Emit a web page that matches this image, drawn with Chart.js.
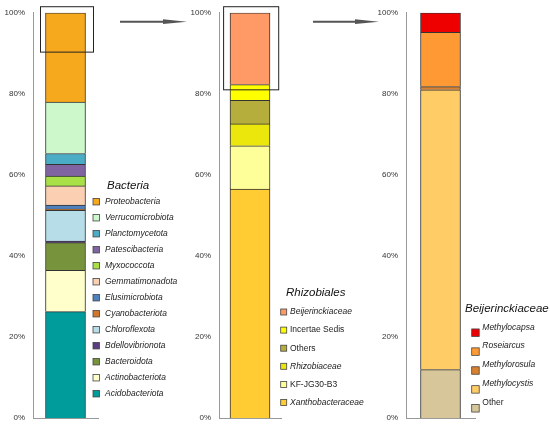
<!DOCTYPE html>
<html>
<head>
<meta charset="utf-8">
<script src="https://cdn.jsdelivr.net/npm/chart.js@4.4.1/dist/chart.umd.min.js"></script>
<style>
  body { margin: 0; background: #fff; }
  #wrap { position: relative; width: 550px; height: 431px; overflow: hidden; }
  canvas { position: absolute; top: 0; }
</style>
</head>
<body>
<div id="wrap">
  <canvas id="bact" width="190" height="431" style="left:0"></canvas>
  <canvas id="rhizo" width="190" height="431" style="left:190px"></canvas>
  <canvas id="beij" width="190" height="431" style="left:360px"></canvas>
</div>
<script>
// stack order: bottom -> top
const bacteriaTaxa = ["Acidobacteriota", "Actinobacteriota", "Bacteroidota", "Bdellovibrionota",
  "Chloroflexota", "Cyanobacteriota", "Elusimicrobiota", "Gemmatimonadota", "Myxococcota",
  "Patescibacteria", "Planctomycetota", "Verrucomicrobiota", "Proteobacteria"];
const bacteriaValues = [26.3, 10.2, 6.8, 0.4, 7.6, 0.3, 1.0, 4.7, 2.4, 2.9, 2.7, 12.7, 22.0];
const bacteriaColors = ["#009b9b", "#ffffcc", "#77933c", "#5c3d82", "#b7dee8", "#d2782e",
  "#4f81bd", "#fbd0b2", "#a9e048", "#8064a2", "#4bacc6", "#ccf8cc", "#f6a91c"];

const rhizoTaxa = ["Xanthobacteraceae", "KF-JG30-B3", "Rhizobiaceae", "Others", "Incertae Sedis", "Beijerinckiaceae"];
const rhizoValues = [56.5, 10.7, 5.4, 5.8, 3.9, 17.7];
const rhizoColors = ["#ffcc33", "#ffff99", "#ebe60c", "#b5ad3c", "#ffff00", "#ff9966"];
const rhizoItalic = [true, false, true, false, false, true];

const beijTaxa = ["Other", "Methylocystis", "Methylorosula", "Roseiarcus", "Methylocapsa"];
const beijValues = [12.0, 69.0, 0.8, 13.4, 4.8];
const beijColors = ["#d6c69a", "#ffcc66", "#d9812e", "#ff9933", "#ee0000"];
const beijItalic = [false, true, true, true, true];

const yTicks = [0, 20, 40, 60, 80, 100];

const sideLegend = {
  id: "sideLegend",
  afterDraw(chart, args, o) {
    const ctx = chart.ctx;
    const sets = chart.data.datasets.slice().reverse();
    ctx.save();
    ctx.textBaseline = "middle";
    ctx.fillStyle = "#111";
    ctx.font = "italic 11.5px 'Liberation Sans', Arial, sans-serif";
    ctx.fillText(o.title, o.titleX, o.titleY);
    sets.forEach((ds, i) => {
      const y = o.firstY + i * o.step;
      ctx.fillStyle = ds.backgroundColor;
      ctx.fillRect(o.boxX, y - o.box / 2, o.box, o.box);
      ctx.strokeStyle = "#444";
      ctx.lineWidth = 0.8;
      ctx.strokeRect(o.boxX, y - o.box / 2, o.box, o.box);
      ctx.fillStyle = "#222";
      ctx.font = (ds.italic ? "italic " : "") + "8.5px 'Liberation Sans', Arial, sans-serif";
      ctx.fillText(ds.label, o.textX, y + o.textDy);
    });
    ctx.restore();
  }
};

const zoomBox = {
  id: "zoomBox",
  afterDraw(chart, args, o) {
    if (!o.show) return;
    const ctx = chart.ctx;
    const y = chart.scales.y;
    const metas = chart.getSortedVisibleDatasetMetas();
    const bar = metas[metas.length - 1].data[0];
    const l = bar.x - bar.width / 2 - o.padL, r = bar.x + bar.width / 2 + o.padR;
    const t = y.getPixelForValue(o.top), b = y.getPixelForValue(o.bottom);
    ctx.save();
    ctx.strokeStyle = "#222";
    ctx.lineWidth = 1;
    ctx.strokeRect(l, t, r - l, b - t);
    // arrow to the next panel
    const ay = y.getPixelForValue(o.arrowAt);
    ctx.strokeStyle = "#555";
    ctx.lineWidth = 2;
    ctx.beginPath();
    ctx.moveTo(o.arrowX1, ay);
    ctx.lineTo(o.arrowX2 - 16, ay);
    ctx.stroke();
    ctx.fillStyle = "#555";
    ctx.beginPath();
    ctx.moveTo(o.arrowX2, ay);
    ctx.lineTo(o.arrowX2 - 24, ay - 2.4);
    ctx.lineTo(o.arrowX2 - 24, ay + 2.4);
    ctx.closePath();
    ctx.fill();
    ctx.restore();
  }
};

function makeChart(id, taxa, values, colors, italic, axisX, right, legend, box) {
  const canvas = document.getElementById(id);
  const datasets = taxa.map((t, i) => ({
    label: t,
    data: [values[i]],
    backgroundColor: colors[i],
    borderColor: "#333",
    borderWidth: 1,
    borderSkipped: "start",
    barThickness: 40,
    italic: italic ? italic[i] : true
  }));
  return new Chart(canvas, {
    type: "bar",
    data: { labels: [""], datasets: datasets },
    options: {
      responsive: false,
      animation: false,
      layout: { padding: { top: 12, bottom: 9, left: 0, right: canvas.width - right } },
      scales: {
        x: {
          stacked: true,
          grid: { display: false, drawTicks: false },
          border: { color: "#999", width: 1 },
          ticks: { display: false },
          afterFit: (s) => { s.height = 0; }
        },
        y: {
          stacked: true,
          min: 0,
          max: 100,
          grid: { display: false, drawTicks: false },
          border: { color: "#999", width: 1 },
          afterBuildTicks: (s) => { s.ticks = yTicks.map(v => ({ value: v })); },
          afterFit: (s) => { s.width = axisX; },
          ticks: {
            padding: 8,
            color: "#333",
            font: { family: "'Liberation Sans', Arial, sans-serif", size: 8 },
            callback: (v) => v + "%"
          }
        }
      },
      plugins: {
        legend: { display: false },
        tooltip: { enabled: false },
        sideLegend: legend,
        zoomBox: box
      }
    },
    plugins: [sideLegend, zoomBox]
  });
}

makeChart("bact", bacteriaTaxa, bacteriaValues, bacteriaColors, null, 33, 98,
  { title: "Bacteria", titleX: 107, titleY: 185.5, boxX: 93, box: 6.5, textX: 105, firstY: 201.7, step: 16, textDy: 0 },
  { show: true, padL: 5, padR: 8, top: 101.5, bottom: 90.3, arrowAt: 97.8, arrowX1: 120, arrowX2: 187 });

makeChart("rhizo", rhizoTaxa, rhizoValues, rhizoColors, rhizoItalic, 29, 91,
  { title: "Rhizobiales", titleX: 96, titleY: 293, boxX: 90.7, box: 6, textX: 100, firstY: 312, step: 18.1, textDy: 0 },
  { show: true, padL: 6.4, padR: 8.7, top: 101.5, bottom: 81, arrowAt: 97.8, arrowX1: 123, arrowX2: 189 });

makeChart("beij", beijTaxa, beijValues, beijColors, beijItalic, 46, 115,
  { title: "Beijerinckiaceae", titleX: 105, titleY: 308.3, boxX: 111.7, box: 7.5, textX: 122.3, firstY: 332.7, step: 18.9, textDy: -5.5 },
  { show: false });
</script>
</body>
</html>
